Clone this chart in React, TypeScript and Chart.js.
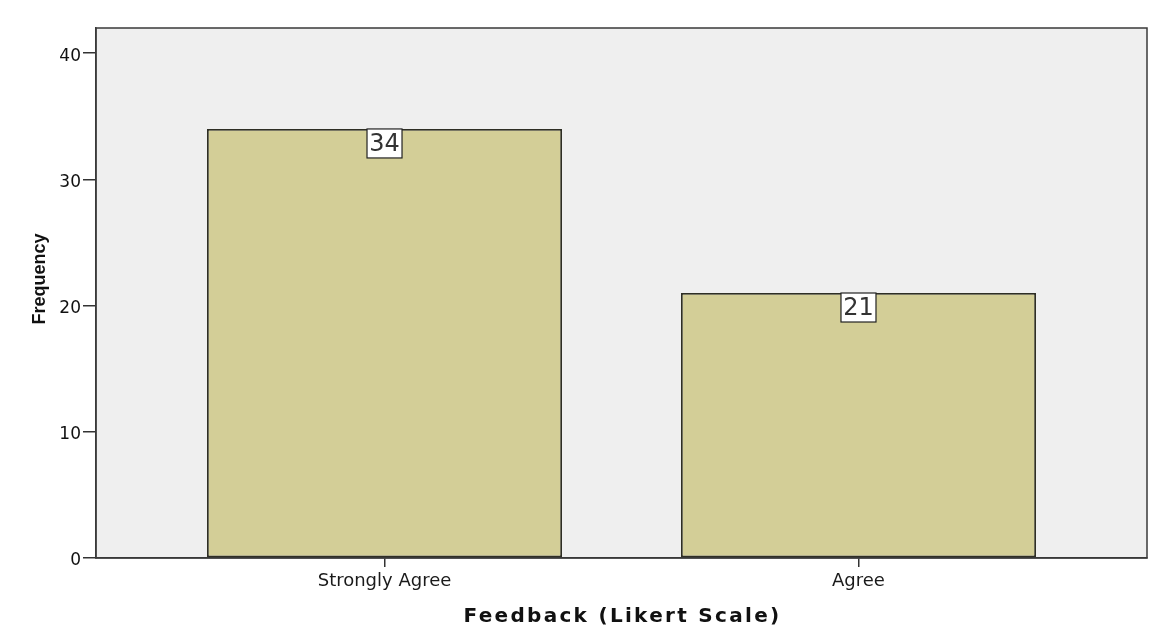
import { useEffect, useRef } from 'react';
import { Chart, registerables } from 'chart.js';

Chart.register(...registerables);

const categories = ['Strongly Agree', 'Agree'];
const categoryPositions = [1, 2];
const frequencies = [34, 21];
const yTickValues = [0, 10, 20, 30, 40];
const xTitle = 'Feedback (Likert Scale)';
const yTitle = 'Frequency';

export default function App() {
  const ref = useRef<HTMLCanvasElement>(null);

  useEffect(() => {
    document.body.style.margin = '0';
    const canvas = ref.current;
    if (!canvas) return;

    const plotPlugin = {
      id: 'plotDecor',
      beforeDraw(chart: any) {
        const { ctx, chartArea: a } = chart;
        ctx.save();
        ctx.fillStyle = '#EFEFEF';
        ctx.fillRect(a.left, a.top, a.right - a.left, a.bottom - a.top);
        ctx.restore();
      },
      afterDatasetsDraw(chart: any) {
        const { ctx, chartArea: a } = chart;
        ctx.save();
        ctx.strokeStyle = '#3a3a3a';
        ctx.lineWidth = 1.5;
        ctx.strokeRect(a.left, a.top, a.right - a.left, a.bottom - a.top);
        const meta = chart.getDatasetMeta(0);
        meta.data.forEach((el: any, i: number) => {
          const w = 35;
          const h = 29;
          const left = el.x - w / 2;
          const top = el.y;
          ctx.fillStyle = '#FFFFFF';
          ctx.fillRect(left, top, w, h);
          ctx.strokeStyle = '#222';
          ctx.lineWidth = 1.2;
          ctx.strokeRect(left, top, w, h);
          ctx.fillStyle = '#333';
          ctx.font = '24px "DejaVu Sans"';
          ctx.textAlign = 'center';
          ctx.textBaseline = 'middle';
          ctx.fillText(String(frequencies[i]), el.x, top + h / 2 + 1);
        });
        ctx.restore();
      },
      afterDraw(chart: any) {
        const { ctx, chartArea: a } = chart;
        ctx.save();
        ctx.fillStyle = '#111';
        ctx.font = 'bold 20px "DejaVu Sans"';
        (ctx as any).letterSpacing = '2.3px';
        ctx.textAlign = 'center';
        ctx.textBaseline = 'alphabetic';
        ctx.fillText(xTitle, (a.left + a.right) / 2 + 1, 622);
        (ctx as any).letterSpacing = '0px';
        ctx.translate(45, 279);
        ctx.rotate(-Math.PI / 2);
        ctx.font = 'bold 18px "Liberation Sans"';
        ctx.fillText(yTitle, 0, 0);
        ctx.restore();
      },
    };

    const chart = new Chart(canvas, {
      type: 'bar',
      data: {
        datasets: [
          {
            data: categoryPositions.map((x, i) => ({ x, y: frequencies[i] })),
            backgroundColor: '#D3CE97',
            borderColor: '#2e2e24',
            borderWidth: 1.8,
            borderSkipped: false,
            categoryPercentage: 1,
            barPercentage: 0.749,
          },
        ],
      },
      options: {
        animation: false,
        responsive: false,
        layout: { padding: { top: 28, right: 14, left: 0, bottom: 0 } },
        plugins: {
          legend: { display: false },
          tooltip: { enabled: false },
        },
        scales: {
          x: {
            type: 'linear',
            offset: false,
            min: 0.3913,
            max: 2.6087,
            afterBuildTicks(scale: any) {
              scale.ticks = categoryPositions.map((v) => ({ value: v }));
            },
            afterFit(scale: any) {
              scale.height = 84;
            },
            ticks: {
              autoSkip: false,
              maxRotation: 0,
              padding: 4,
              color: '#1a1a1a',
              font: { family: '"DejaVu Sans"', size: 18 },
              callback: (v: any) => {
                const idx = categoryPositions.indexOf(Number(v));
                return idx >= 0 ? categories[idx] : '';
              },
            },
            grid: {
              display: true,
              offset: false,
              drawOnChartArea: false,
              drawTicks: true,
              tickLength: 9,
              color: '#333',
              lineWidth: 1.5,
            },
            border: { display: true, color: '#3a3a3a', width: 1.5 },
          },
          y: {
            type: 'linear',
            min: 0,
            max: 42,
            afterBuildTicks(scale: any) {
              scale.ticks = yTickValues.map((v) => ({ value: v }));
            },
            afterFit(scale: any) {
              scale.width = 96;
            },
            ticks: {
              padding: 2,
              labelOffset: 3,
              color: '#111',
              font: { family: '"DejaVu Sans"', size: 17 },
            },
            grid: {
              display: true,
              drawOnChartArea: false,
              drawTicks: true,
              tickLength: 13,
              color: '#333',
              lineWidth: 1.5,
            },
            border: { display: true, color: '#3a3a3a', width: 1.5 },
          },
        },
      },
      plugins: [plotPlugin],
    });

    return () => chart.destroy();
  }, []);

  return (
    <div style={{ width: 1161, height: 642 }}>
      <canvas ref={ref} width={1161} height={642} />
    </div>
  );
}
